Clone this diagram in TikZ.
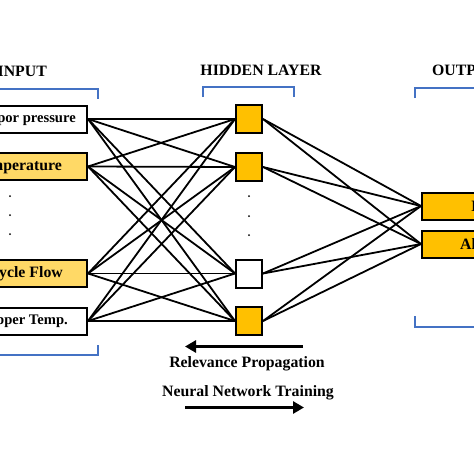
\documentclass[tikz,border=0pt]{standalone}
\usepackage{fontspec}
\setmainfont{Liberation Serif}
\usetikzlibrary{arrows.meta}
\definecolor{ygold}{HTML}{FFC000}
\definecolor{ylight}{HTML}{FFD966}
\definecolor{brblue}{HTML}{4472C4}
\tikzset{
  inbox/.style={draw=black, line width=2pt, minimum width=130pt, minimum height=27pt, inner sep=0pt, anchor=east},
  hidbox/.style={draw=black, line width=2pt, minimum width=26pt, minimum height=28pt, inner sep=0pt},
  outbox/.style={draw=black, line width=2pt, fill=ygold, minimum width=100pt, minimum height=27pt, inner sep=0pt, anchor=west},
  lbl/.style={font=\bfseries\fontsize{15.8}{18}\selectfont, inner sep=0pt},
  lblsm/.style={font=\bfseries\fontsize{14.6}{17}\selectfont, inner sep=0pt},
  conn/.style={line width=1.8pt, black},
  brk/.style={draw=brblue, line width=1.5pt},
  dotm/.style={circle, fill=black, inner sep=0pt, minimum size=2pt},
  bigarrow/.style={line width=3.5pt, -{Triangle[length=11pt,width=12pt]}}
}
\begin{document}
\begin{tikzpicture}[x=1pt,y=-1pt]
\useasboundingbox (0,0) rectangle (474,474);
\clip (0,0) rectangle (474,474);
% input boxes
\node[inbox, fill=white]  (i1) at (88,119) {};
\node[inbox, fill=ylight] (i2) at (88,166.5) {};
\node[inbox, fill=ylight] (i3) at (88,273.5) {};
\node[inbox, fill=white]  (i4) at (88,321) {};
\node[lblsm, anchor=east] (t1) at (76,119.5) {Vapor pressure};
\node[lbl, anchor=east] (t2) at (62,167) {Temperature};
\node[lbl, anchor=east] (t3) at (63,274) {Recycle Flow};
\node[lblsm, anchor=east] (t4) at (68,321.5) {Upper Temp.};
% hidden
\node[hidbox, fill=ygold] (h1) at (249,119) {};
\node[hidbox, fill=ygold] (h2) at (249,167) {};
\node[hidbox, fill=white] (h3) at (249,273.5) {};
\node[hidbox, fill=ygold] (h4) at (249,321) {};
% output
\node[outbox] (o1) at (421,206) {};
\node[outbox] (o2) at (421,244) {};
\node[lbl, anchor=west] (ot1) at (471,206.5) {Indicator};
\node[lbl, anchor=west] (ot2) at (460,244.5) {Alarm};
% connections
\foreach \a in {1,2,3,4}{
  \foreach \b in {1,2,3,4}{
    \draw[conn] (i\a.east) -- (h\b.west);
  }
  \foreach \c in {1,2}{
    \draw[conn] (h\a.east) -- (o\c.west);
  }
}
% dots
\node[dotm] (d1) at (10,196) {};
\node[dotm] (d2) at (10,215) {};
\node[dotm] (d3) at (10,234) {};
\node[dotm] (d4) at (249,196) {};
\node[dotm] (d5) at (249,216) {};
\node[dotm] (d6) at (249,235) {};
% headings
\node[lbl, anchor=east] (hin) at (47,71) {INPUT};
\node[lbl] (hhid) at (261,70) {HIDDEN LAYER};
\node[lbl, anchor=west] (hout) at (432,70) {OUTPUT};
% brackets
\draw[brk] (-5,89) -- (98,89) -- (98,99);
\draw[brk] (-5,355) -- (98,355) -- (98,345);
\draw[brk] (203,97) -- (203,87) -- (294,87) -- (294,97);
\draw[brk] (415,98) -- (415,88) -- (480,88);
\draw[brk] (415,316) -- (415,327) -- (480,327);
% arrows
\coordinate (ra) at (303,346.5);
\coordinate (rb) at (185,346.5);
\draw[bigarrow] (ra) -- (rb);
\node[lbl] (rp) at (247,364) {Relevance Propagation};
\node[lbl] (nn) at (248,393) {Neural Network Training};
\coordinate (na) at (185,407.5);
\coordinate (nb) at (304,407.5);
\draw[bigarrow] (na) -- (nb);
\end{tikzpicture}
\end{document}
